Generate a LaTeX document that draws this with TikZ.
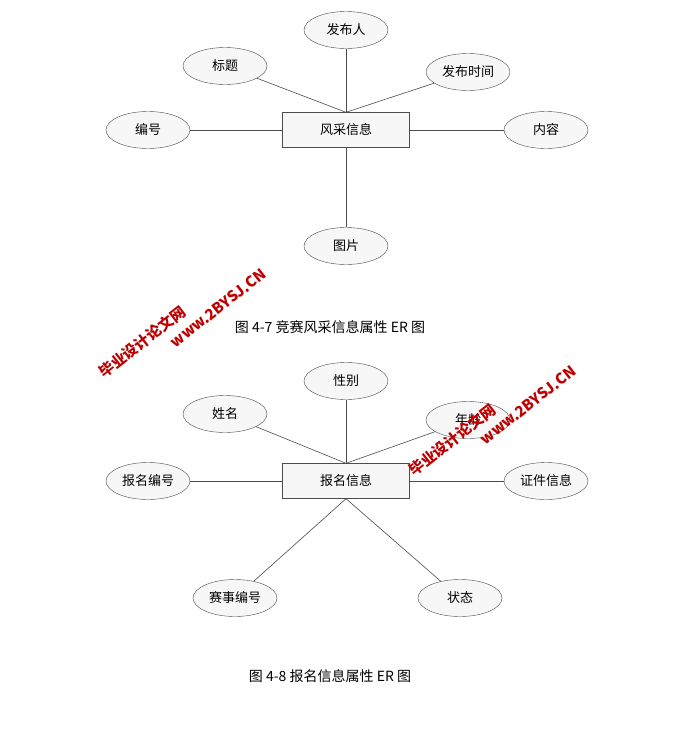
\documentclass[tikz,border=0pt]{standalone}
\usepackage{fontspec}
\setmainfont{Liberation Serif}
\newfontfamily\cjk{Noto Sans CJK SC}
\usetikzlibrary{shapes.geometric}
\tikzset{
 attr/.style={draw=black!70,ellipse,fill=black!3,minimum width=84pt,minimum height=37pt,inner sep=0pt,font=\cjk\fontsize{13}{13}\selectfont},
 ent/.style={draw=black!70,rectangle,fill=black!3,minimum width=127pt,minimum height=35pt,inner sep=0pt,font=\cjk\fontsize{13}{13}\selectfont},
 ln/.style={draw=black!70,line width=0.6pt},
 captxt/.style={font=\cjk\fontsize{14}{14}\selectfont},
 wm/.style={text=red!75!black,font=\cjk\bfseries\fontsize{15}{15}\selectfont,rotate=38}
}
\begin{document}
\begin{tikzpicture}[x=1pt,y=-1pt]
\useasboundingbox[fill=white] (0,0) rectangle (696,745);
% diagram 1
\node[ent] (e1) at (346,130) {风采信息};
\node[attr] (a1) at (346,30) {发布人};
\node[attr] (a2) at (225,66) {标题};
\node[attr] (a3) at (468,72) {发布时间};
\node[attr] (a4) at (148,130) {编号};
\node[attr] (a5) at (546,130) {内容};
\node[attr] (a6) at (346,246) {图片};
\draw[ln] (e1.north) -- (a1); \draw[ln] (e1.north) -- (a2); \draw[ln] (e1.north) -- (a3);
\draw[ln] (e1.west) -- (a4); \draw[ln] (e1.east) -- (a5); \draw[ln] (e1.south) -- (a6);
\node[captxt] (c1) at (330,327) {图 4-7 竞赛风采信息属性 ER 图};
% diagram 2
\node[ent] (e2) at (346,481) {报名信息};
\node[attr] (b1) at (346,381) {性别};
\node[attr] (b2) at (225,414) {姓名};
\node[attr] (b3) at (468,420) {年龄};
\node[attr] (b4) at (148,481) {报名编号};
\node[attr] (b5) at (546,481) {证件信息};
\node[attr] (b6) at (235,598) {赛事编号};
\node[attr] (b7) at (460,598) {状态};
\draw[ln] (e2.north) -- (b1); \draw[ln] (e2.north) -- (b2); \draw[ln] (e2.north) -- (b3);
\draw[ln] (e2.west) -- (b4); \draw[ln] (e2.east) -- (b5);
\draw[ln] (e2.south) -- (b6); \draw[ln] (e2.south) -- (b7);
\node[captxt] (c2) at (330,676) {图 4-8 报名信息属性 ER 图};
% watermarks
\node[wm] (w1) at (142,342) {毕业设计论文网};
\node[wm] (w2) at (218,308) {www.2BYSJ.CN};
\node[wm] (w3) at (452,440) {毕业设计论文网};
\node[wm] (w4) at (528,405) {www.2BYSJ.CN};
\end{tikzpicture}
\end{document}
